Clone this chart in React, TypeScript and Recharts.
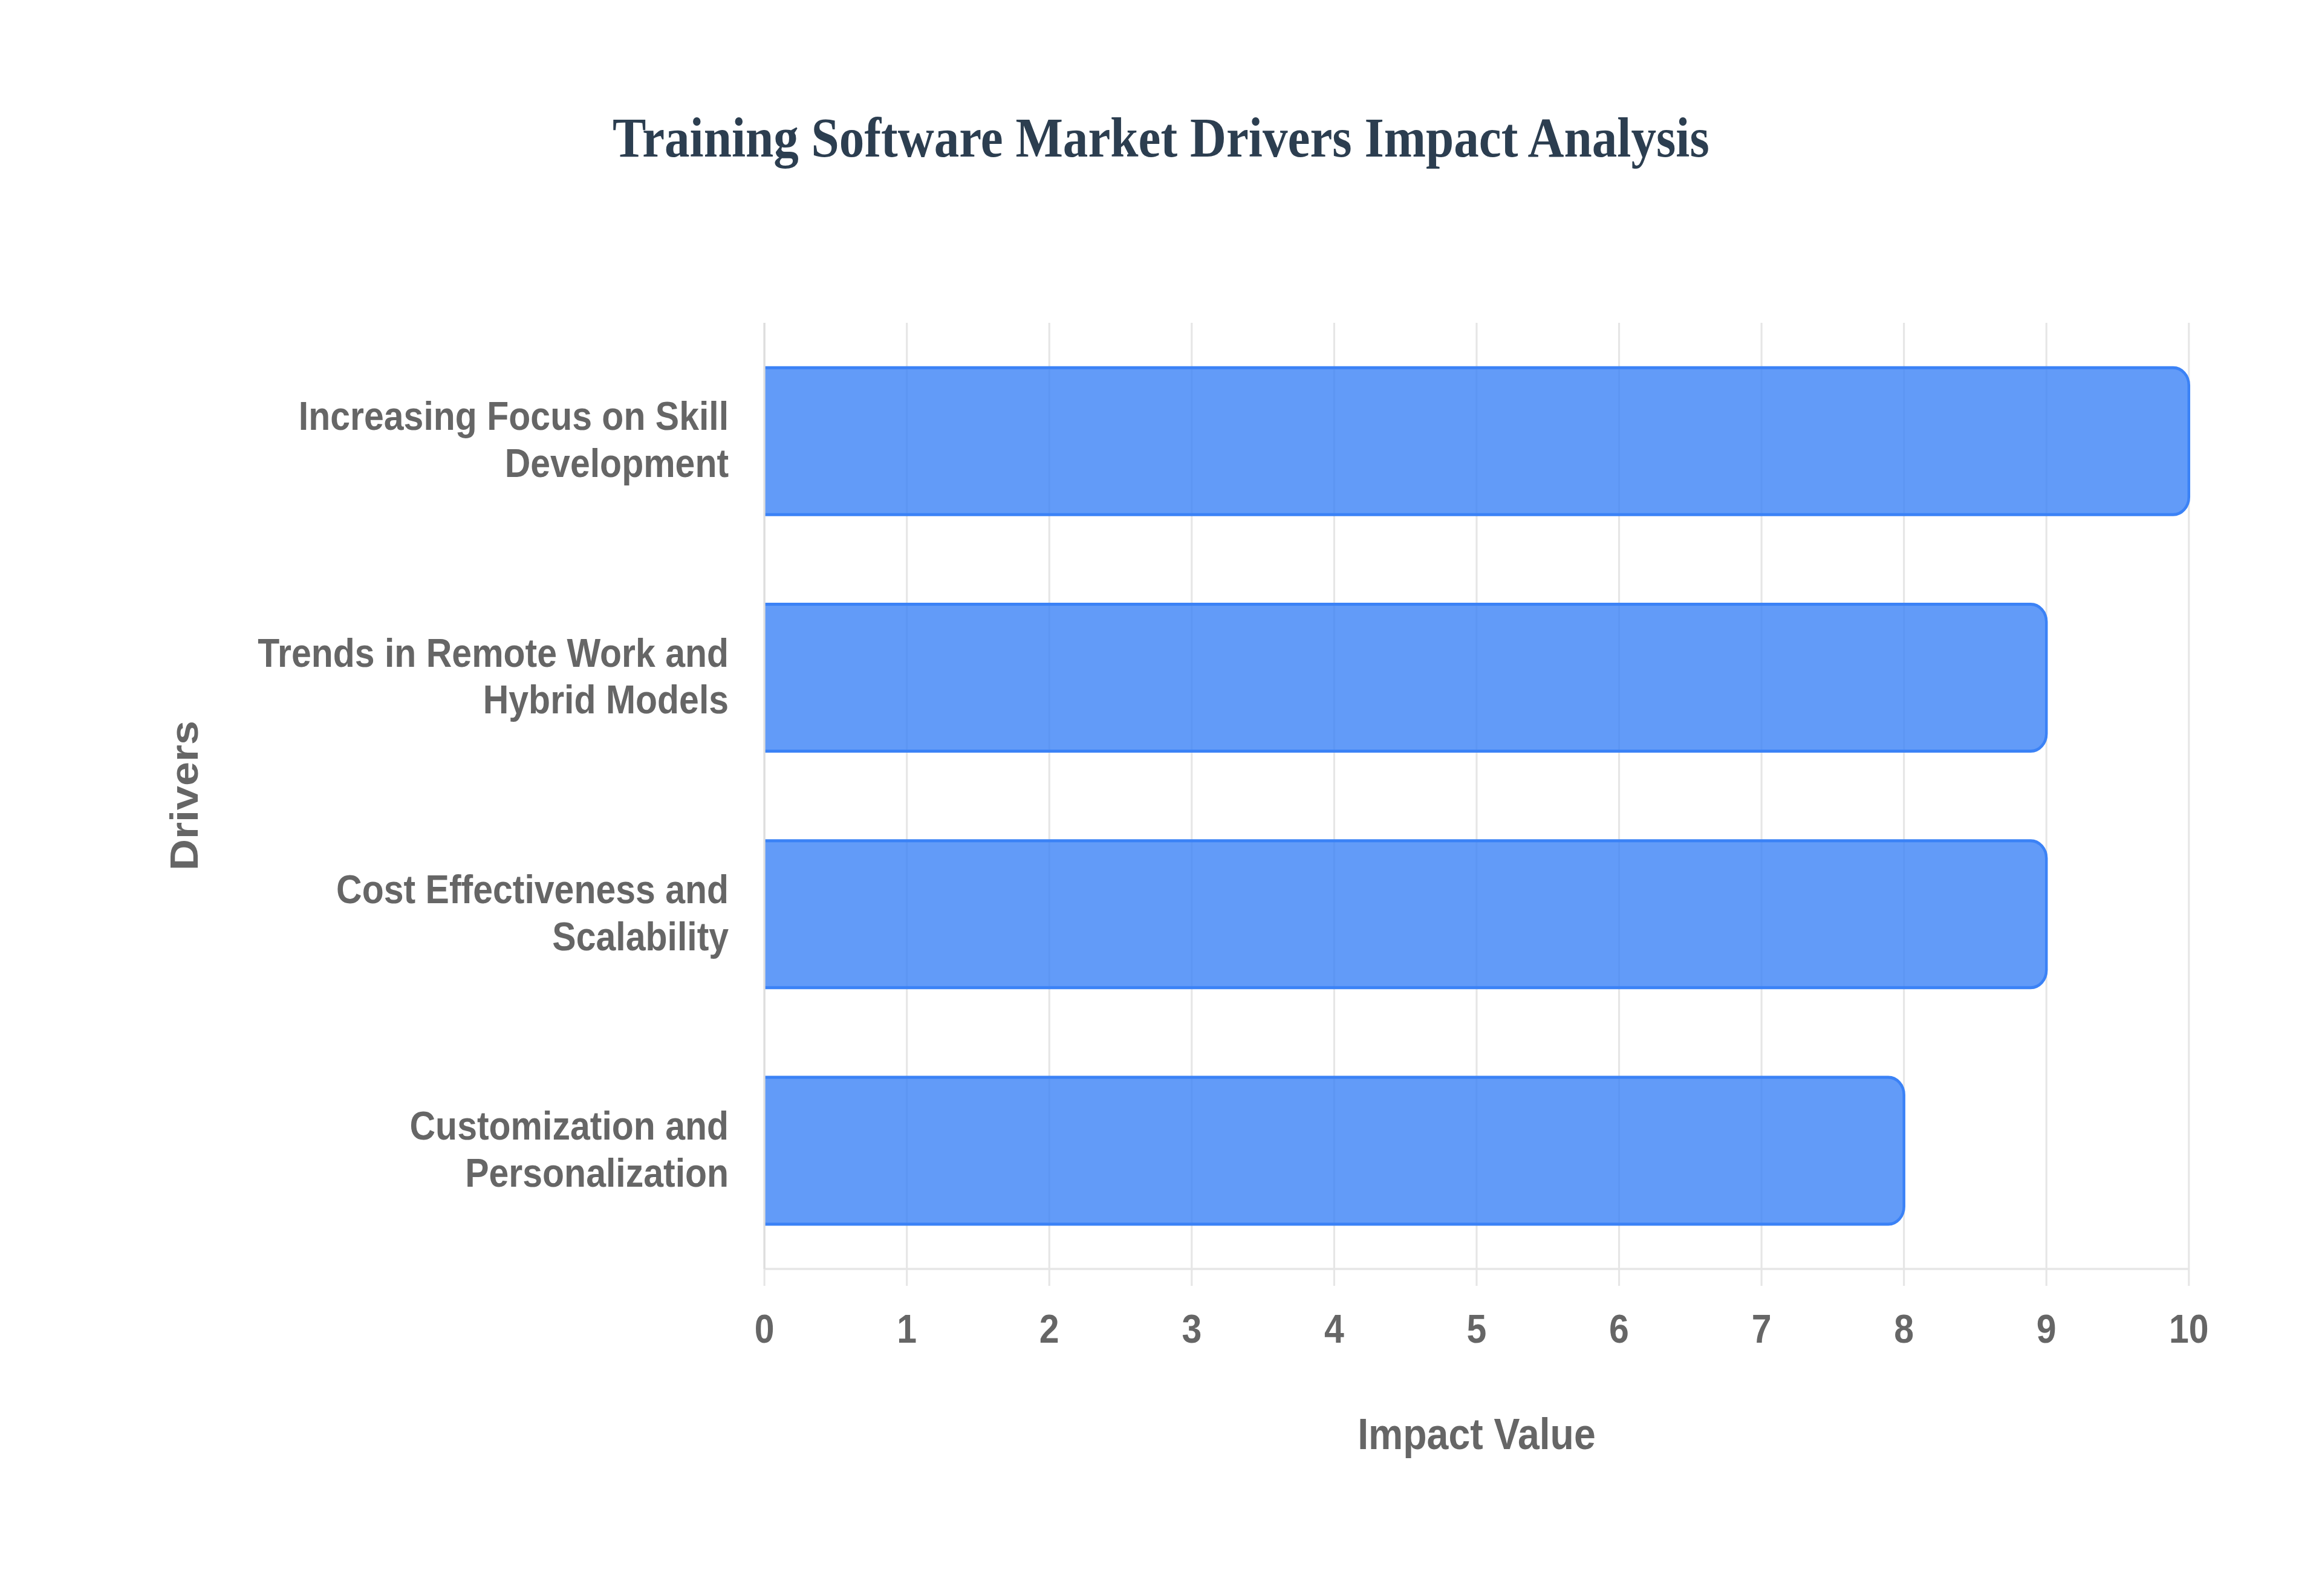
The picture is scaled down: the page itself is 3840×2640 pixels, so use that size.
import React from 'react';
import { BarChart, Bar, XAxis, YAxis, CartesianGrid } from 'recharts';

const categories = [
  'Increasing Focus on Skill Development',
  'Trends in Remote Work and Hybrid Models',
  'Cost Effectiveness and Scalability',
  'Customization and Personalization',
];
const impactValues = [10, 9, 9, 8];
const xTicks = [0, 1, 2, 3, 4, 5, 6, 7, 8, 9, 10];
const chartTitle = 'Training Software Market Drivers Impact Analysis';
const xAxisTitle = 'Impact Value';
const yAxisTitle = 'Drivers';

const data = categories.map((c, i) => ({ driver: c, impact: impactValues[i] }));

const SX = 0.894;
const FULL_W = 3840;
const FULL_H = 2640;
const W = Math.round(FULL_W / SX);

const SANS = "'Liberation Sans', Arial, Helvetica, sans-serif";
const SERIF = "'Liberation Serif', 'Times New Roman', Times, serif";
const TEXT = '#666666';
const GRID = '#e6e6e6';

const TICK_FS = 66;
const TITLE_FS = 72;

function wrap(label: string, maxChars: number): string[] {
  const words = label.split(' ');
  const lines: string[] = [];
  let cur = '';
  for (const w of words) {
    const next = cur ? cur + ' ' + w : w;
    if (next.length > maxChars && cur) {
      lines.push(cur);
      cur = w;
    } else {
      cur = next;
    }
  }
  if (cur) lines.push(cur);
  return lines;
}

function YTick(props: any) {
  const { x, y, payload } = props;
  const lines = wrap(String(payload.value), 25);
  const lh = 78;
  const start = y - 3 - ((lines.length - 1) * lh) / 2;
  return (
    <text textAnchor="end" fill={TEXT} fontSize={TICK_FS} fontWeight="bold" fontFamily={SANS}>
      {lines.map((l, i) => (
        <tspan key={i} x={x} y={start + i * lh + 0.358 * TICK_FS}>
          {l}
        </tspan>
      ))}
    </text>
  );
}

function XTick(props: any) {
  const { x, y, payload } = props;
  return (
    <text x={x} y={y + 94} textAnchor="middle" fill={TEXT} fontSize={TICK_FS} fontWeight="bold" fontFamily={SANS}>
      {payload.value}
    </text>
  );
}

function BarShape(props: any) {
  const { x, y, width, height } = props;
  if (!width || width <= 0) return null;
  const r = Math.min(29, height / 2, width);
  const fillPath = `M${x},${y} L${x + width - r},${y} A${r},${r} 0 0 1 ${x + width},${y + r} L${x + width},${y + height - r} A${r},${r} 0 0 1 ${x + width - r},${y + height} L${x},${y + height} Z`;
  const strokePath = `M${x},${y} L${x + width - r},${y} A${r},${r} 0 0 1 ${x + width},${y + r} L${x + width},${y + height - r} A${r},${r} 0 0 1 ${x + width - r},${y + height} L${x},${y + height}`;
  return (
    <g>
      <path d={fillPath} fill="rgba(59,130,246,0.8)" stroke="none" />
      <path d={strokePath} fill="none" stroke="rgb(59,130,246)" strokeWidth={5} />
    </g>
  );
}

export default function App() {
  return (
    <div
      style={{
        position: 'absolute',
        left: 0,
        top: 0,
        width: FULL_W,
        height: FULL_H,
        overflow: 'hidden',
        background: '#ffffff',
      }}
    >
      <div
        style={{
          position: 'relative',
          width: W,
          height: FULL_H,
          transform: `scale(${SX}, 1)`,
          transformOrigin: '0 0',
        }}
      >
        <BarChart
          width={W}
          height={FULL_H}
          data={data}
          layout="vertical"
          margin={{ top: 534, right: 246, bottom: 0, left: 0 }}
          barCategoryGap="19%"
        >
          <CartesianGrid horizontal={false} vertical={true} stroke={GRID} strokeWidth={3.5} />
          <XAxis
            type="number"
            dataKey="impact"
            domain={[0, 10]}
            ticks={xTicks}
            interval={0}
            height={541}
            tickSize={28}
            tickMargin={0}
            tickLine={{ stroke: GRID, strokeWidth: 3.5 }}
            axisLine={{ stroke: GRID, strokeWidth: 3.5 }}
            tick={<XTick />}
          />
          <YAxis
            type="category"
            dataKey="driver"
            width={1414}
            interval={0}
            tickSize={0}
            tickMargin={66}
            tickLine={false}
            axisLine={{ stroke: '#dedede', strokeWidth: 3.5 }}
            tick={<YTick />}
          />
          <Bar dataKey="impact" isAnimationActive={false} shape={<BarShape />} />
        </BarChart>
        <svg
          width={W}
          height={FULL_H}
          style={{ position: 'absolute', left: 0, top: 0, pointerEvents: 'none' }}
        >
          <text
            x={W / 2}
            y={259}
            textAnchor="middle"
            fill="#2c3e50"
            fontSize={93}
            fontWeight="bold"
            fontFamily={SERIF}
          >
            {chartTitle}
          </text>
          <text
            x={2731.5}
            y={2397}
            textAnchor="middle"
            fill={TEXT}
            fontSize={TITLE_FS}
            fontWeight="bold"
            fontFamily={SANS}
          >
            {xAxisTitle}
          </text>
          <text
            x={366}
            y={1316}
            transform="rotate(-90 366 1316)"
            textAnchor="middle"
            fill={TEXT}
            fontSize={TITLE_FS}
            fontWeight="bold"
            fontFamily={SANS}
          >
            {yAxisTitle}
          </text>
        </svg>
      </div>
    </div>
  );
}
